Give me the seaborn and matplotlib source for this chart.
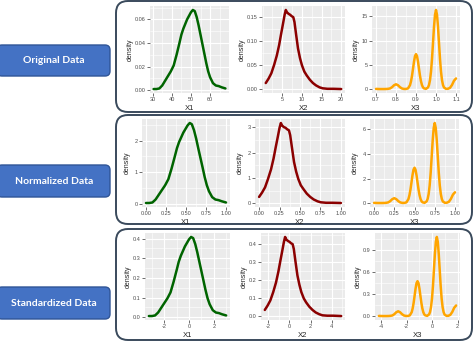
import matplotlib
matplotlib.use("Agg")
import matplotlib.pyplot as plt
from matplotlib.patches import FancyBboxPatch
from matplotlib.ticker import FixedLocator, FormatStrFormatter, AutoMinorLocator
import pandas as pd
import seaborn as sns

# ---- density curves ----
# X1
x1_orig = [30.5, 32, 33.5, 35, 36.5, 38, 39.5, 41, 42.5, 44, 45, 46, 47, 48, 49, 50, 51, 52, 53, 54,
           55, 56, 57, 58, 59, 60, 61.5, 63, 64.5, 66, 68]
x1_orig_d = [0.001, 0.001, 0.0015, 0.004, 0.008, 0.012, 0.016, 0.021, 0.030, 0.040, 0.047, 0.052, 0.056,
             0.060, 0.063, 0.066, 0.068, 0.067, 0.062, 0.055, 0.047, 0.039, 0.031, 0.023, 0.016, 0.011,
             0.006, 0.004, 0.0035, 0.0025, 0.0015]
x1_norm = [0, 0.04, 0.08, 0.12, 0.16, 0.2, 0.24, 0.28, 0.32, 0.36, 0.387, 0.413, 0.44, 0.467, 0.493, 0.52,
           0.547, 0.573, 0.6, 0.627, 0.653, 0.68, 0.707, 0.733, 0.76, 0.787, 0.827, 0.867, 0.907, 0.947, 1.0]
x1_norm_d = [0.04, 0.04, 0.056, 0.15, 0.30, 0.45, 0.60, 0.79, 1.125, 1.5, 1.76, 1.95, 2.1, 2.25, 2.36, 2.475,
             2.55, 2.51, 2.325, 2.06, 1.76, 1.46, 1.16, 0.86, 0.6, 0.41, 0.225, 0.15, 0.13, 0.094, 0.056]
x1_std = [-3.25, -3.0, -2.75, -2.5, -2.25, -2.0, -1.75, -1.5, -1.25, -1.0, -0.833, -0.667, -0.5, -0.333,
          -0.167, 0, 0.167, 0.333, 0.5, 0.667, 0.833, 1.0, 1.167, 1.333, 1.5, 1.667, 1.917, 2.167, 2.417,
          2.667, 3.0]
x1_std_d = [0.006, 0.006, 0.009, 0.024, 0.048, 0.072, 0.096, 0.126, 0.18, 0.24, 0.282, 0.312, 0.336, 0.36,
            0.378, 0.396, 0.408, 0.402, 0.372, 0.33, 0.282, 0.234, 0.186, 0.138, 0.096, 0.066, 0.036,
            0.024, 0.021, 0.015, 0.009]

# X2
x2_orig = [0.8, 1.5, 2.2, 2.9, 3.6, 4.2, 4.7, 5.2, 5.6, 5.9, 6.2, 6.6, 7.0, 7.4, 7.8, 8.1, 8.5, 9.0, 9.5,
           10.0, 10.6, 11.2, 12.0, 12.8, 13.6, 14.5, 15.3, 16.5, 18, 20]
x2_orig_d = [0.013, 0.022, 0.033, 0.050, 0.070, 0.092, 0.115, 0.137, 0.155, 0.165, 0.160, 0.157, 0.155,
             0.152, 0.150, 0.140, 0.115, 0.085, 0.065, 0.050, 0.037, 0.029, 0.020, 0.013, 0.008, 0.004,
             0.002, 0.001, 0.001, 0.0005]
x2_norm = [0, 0.036, 0.073, 0.109, 0.146, 0.177, 0.203, 0.229, 0.250, 0.266, 0.281, 0.302, 0.323, 0.344,
           0.365, 0.380, 0.401, 0.427, 0.453, 0.479, 0.510, 0.542, 0.583, 0.625, 0.667, 0.714, 0.755,
           0.818, 0.896, 1.0]
x2_norm_d = [0.25, 0.42, 0.63, 0.96, 1.34, 1.77, 2.21, 2.63, 2.98, 3.17, 3.07, 3.01, 2.98, 2.92, 2.88,
             2.69, 2.21, 1.63, 1.25, 0.96, 0.71, 0.56, 0.38, 0.25, 0.15, 0.077, 0.038, 0.019, 0.019, 0.01]
x2_std = [-2.31, -2.05, -1.79, -1.52, -1.26, -1.04, -0.85, -0.66, -0.51, -0.40, -0.29, -0.14, 0.01, 0.16,
          0.31, 0.42, 0.57, 0.76, 0.95, 1.13, 1.36, 1.58, 1.88, 2.18, 2.48, 2.82, 3.12, 3.57, 4.13, 4.88]
x2_std_d = [0.035, 0.059, 0.088, 0.134, 0.187, 0.246, 0.307, 0.366, 0.414, 0.441, 0.427, 0.419, 0.414,
            0.406, 0.401, 0.374, 0.307, 0.227, 0.174, 0.134, 0.099, 0.077, 0.053, 0.035, 0.021, 0.011,
            0.005, 0.003, 0.003, 0.001]

# X3
x3_orig = [0.70, 0.71, 0.72, 0.73, 0.74, 0.75, 0.76, 0.77, 0.78, 0.79, 0.80, 0.81, 0.82, 0.83, 0.84, 0.85,
           0.86, 0.87, 0.875, 0.88, 0.885, 0.89, 0.895, 0.90, 0.905, 0.91, 0.915, 0.92, 0.925, 0.93, 0.935,
           0.94, 0.95, 0.96, 0.965, 0.97, 0.975, 0.98, 0.985, 0.99, 0.995, 1.00, 1.005, 1.01, 1.015, 1.02,
           1.025, 1.03, 1.035, 1.04, 1.05, 1.06, 1.07, 1.08, 1.09, 1.10]
x3_orig_d = [0.05, 0.03, 0.02, 0.02, 0.02, 0.03, 0.06, 0.14, 0.40, 0.80, 1.0, 0.8, 0.4, 0.13, 0.04, 0.04,
             0.15, 0.82, 1.6, 2.74, 4.18, 5.66, 6.8, 7.2, 6.8, 5.66, 4.18, 2.74, 1.6, 0.82, 0.37, 0.16, 0.06,
             0.36, 0.85, 1.86, 3.6, 6.2, 9.5, 12.8, 15.3, 16.3, 15.3, 12.8, 9.5, 6.2, 3.6, 1.86, 0.85, 0.34,
             0.06, 0.08, 0.27, 0.86, 1.73, 2.2]
x3_norm = [0, 0.025, 0.05, 0.075, 0.1, 0.125, 0.15, 0.175, 0.2, 0.225, 0.25, 0.275, 0.3, 0.325, 0.35,
           0.375, 0.4, 0.425, 0.4375, 0.45, 0.4625, 0.475, 0.4875, 0.5, 0.5125, 0.525, 0.5375, 0.55, 0.5625,
           0.575, 0.5875, 0.6, 0.625, 0.65, 0.6625, 0.675, 0.6875, 0.7, 0.7125, 0.725, 0.7375, 0.75, 0.7625,
           0.775, 0.7875, 0.8, 0.8125, 0.825, 0.8375, 0.85, 0.875, 0.9, 0.925, 0.95, 0.975, 1.0]
x3_norm_d = [0.02, 0.012, 0.008, 0.008, 0.008, 0.012, 0.024, 0.056, 0.16, 0.32, 0.40, 0.32, 0.16, 0.052,
             0.016, 0.016, 0.06, 0.328, 0.64, 1.096, 1.672, 2.264, 2.72, 2.88, 2.72, 2.264, 1.672, 1.096,
             0.64, 0.328, 0.148, 0.064, 0.024, 0.144, 0.34, 0.744, 1.44, 2.48, 3.8, 5.12, 6.12, 6.52, 6.12,
             5.12, 3.8, 2.48, 1.44, 0.744, 0.34, 0.136, 0.024, 0.032, 0.108, 0.344, 0.692, 0.88]
x3_std = [-4.176, -4.024, -3.873, -3.721, -3.570, -3.418, -3.267, -3.115, -2.964, -2.812, -2.661, -2.509,
          -2.358, -2.206, -2.055, -1.903, -1.752, -1.600, -1.524, -1.448, -1.373, -1.297, -1.221, -1.145,
          -1.070, -0.994, -0.918, -0.842, -0.767, -0.691, -0.615, -0.539, -0.388, -0.236, -0.161, -0.085,
          -0.009, 0.067, 0.142, 0.218, 0.294, 0.370, 0.445, 0.521, 0.597, 0.673, 0.748, 0.824, 0.900,
          0.976, 1.127, 1.279, 1.430, 1.582, 1.733, 1.885]
x3_std_d = [0.0033, 0.002, 0.0013, 0.0013, 0.0013, 0.002, 0.004, 0.0092, 0.0264, 0.0528, 0.066, 0.0528,
            0.0264, 0.0086, 0.0026, 0.0026, 0.0099, 0.054, 0.106, 0.181, 0.276, 0.374, 0.449, 0.475, 0.449,
            0.374, 0.276, 0.181, 0.106, 0.054, 0.024, 0.011, 0.004, 0.024, 0.056, 0.123, 0.238, 0.409,
            0.627, 0.845, 1.01, 1.076, 1.01, 0.845, 0.627, 0.409, 0.238, 0.123, 0.056, 0.022, 0.004, 0.005,
            0.018, 0.057, 0.114, 0.145]

row_labels = ["Original Data", "Normalized Data", "Standardized Data"]
var_names = ["X1", "X2", "X3"]
line_colors = ["darkgreen", "darkred", "orange"]

curves = [
    [(x1_orig, x1_orig_d), (x2_orig, x2_orig_d), (x3_orig, x3_orig_d)],
    [(x1_norm, x1_norm_d), (x2_norm, x2_norm_d), (x3_norm, x3_norm_d)],
    [(x1_std, x1_std_d), (x2_std, x2_std_d), (x3_std, x3_std_d)],
]

x_ticks = [
    [[30, 40, 50, 60], [5, 10, 15, 20], [0.7, 0.8, 0.9, 1.0, 1.1]],
    [[0, 0.25, 0.5, 0.75, 1.0]] * 3,
    [[-2, 0, 2], [-2, 0, 2, 4], [-4, -2, 0, 2]],
]
y_ticks = [
    [[0, 0.02, 0.04, 0.06], [0, 0.05, 0.10, 0.15], [0, 5, 10, 15]],
    [[0, 1, 2], [0, 1, 2, 3], [0, 2, 4, 6]],
    [[0, 0.1, 0.2, 0.3, 0.4], [0, 0.1, 0.2, 0.3, 0.4], [0, 0.3, 0.6, 0.9]],
]
x_fmt = [["%d", "%d", "%.1f"], ["%.2f"] * 3, ["%d"] * 3]
y_fmt = [["%.2f", "%.2f", "%d"], ["%d"] * 3, ["%.1f"] * 3]

W, H = 474, 343
# panel boxes in pixels: left, top, right, bottom
axes_px = [
    [(150, 6, 229, 93), (262, 6, 345, 93), (372, 6, 460, 93)],
    [(142, 119, 230, 207), (255, 119, 345, 207), (370, 119, 459, 207)],
    [(145, 233, 230, 320), (261, 233, 345, 320), (375, 233, 460, 320)],
]

sns.set_theme(style="darkgrid", rc={"axes.facecolor": "#EBEBEB", "grid.color": "white"})
plt.rcParams["font.family"] = ["Liberation Sans", "DejaVu Sans"]

fig = plt.figure(figsize=(W / 100, H / 100), dpi=100)
fig.patch.set_facecolor("white")

# background layer with rounded frames and blue labels
bg = fig.add_axes([0, 0, 1, 1], zorder=0)
bg.set_xlim(0, W)
bg.set_ylim(H, 0)
bg.axis("off")
for top, bottom in [(1, 112), (115, 224), (229, 340)]:
    bg.add_patch(FancyBboxPatch((116, top), 356, bottom - top,
                                boxstyle="round,pad=0,rounding_size=12",
                                fc="white", ec="#3A4A5C", lw=1.4))
for label, (top, bottom) in zip(row_labels, [(45, 76), (165, 197), (287, 319)]):
    bg.add_patch(FancyBboxPatch((-3, top), 113, bottom - top,
                                boxstyle="round,pad=0,rounding_size=5",
                                fc="#4472C4", ec="#2F5597", lw=1.0))
    bg.text(54, (top + bottom) / 2, label, color="white", fontsize=7.5, fontweight="bold",
            ha="center", va="center", family=["Lato", "DejaVu Sans"])

for r in range(3):
    for c in range(3):
        l, t, rr, b = axes_px[r][c]
        ax = fig.add_axes([l / W, 1 - b / H, (rr - l) / W, (b - t) / H], zorder=2)
        xs, ds = curves[r][c]
        df = pd.DataFrame({"x": xs, "density": ds})
        sns.lineplot(data=df, x="x", y="density", ax=ax, color=line_colors[c], lw=1.8,
                     estimator=None, sort=False)
        ax.xaxis.set_major_locator(FixedLocator(x_ticks[r][c]))
        ax.yaxis.set_major_locator(FixedLocator(y_ticks[r][c]))
        ax.xaxis.set_major_formatter(FormatStrFormatter(x_fmt[r][c]))
        ax.yaxis.set_major_formatter(FormatStrFormatter(y_fmt[r][c]))
        ax.xaxis.set_minor_locator(AutoMinorLocator(2))
        ax.yaxis.set_minor_locator(AutoMinorLocator(2))
        ax.grid(which="major", color="white", lw=0.8)
        ax.grid(which="minor", color="white", lw=0.4)
        for s in ax.spines.values():
            s.set_visible(False)
        ax.tick_params(which="major", bottom=True, left=True, length=2, width=0.5, color="#333333",
                       labelsize=4, labelcolor="#4D4D4D", pad=1)
        ax.tick_params(which="minor", bottom=False, left=False)
        ax.set_xlabel(var_names[c], fontsize=5.5, labelpad=1)
        ax.set_ylabel("density", fontsize=5, labelpad=1)

fig.savefig("out.png", dpi=100)
